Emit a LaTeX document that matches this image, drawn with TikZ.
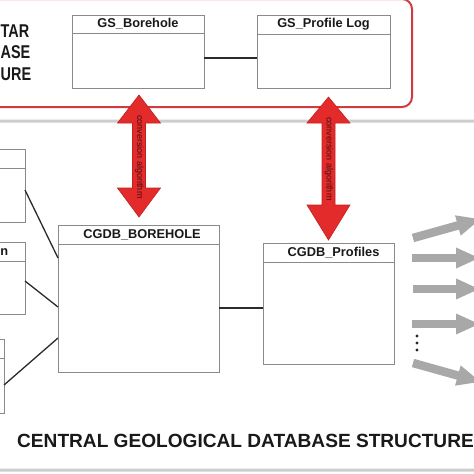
\documentclass[tikz,border=0pt]{standalone}
\usepackage{fontspec}
\setmainfont{Liberation Sans}
\usetikzlibrary{arrows.meta,calc}
\definecolor{tblgray}{HTML}{8A8A8A}
\definecolor{linkc}{HTML}{2B2B2B}
\definecolor{arrowgray}{HTML}{A8A8A8}
\definecolor{arrowred}{HTML}{E42B2B}
\definecolor{arrowreddark}{HTML}{C22020}
\definecolor{boxred}{HTML}{D33A40}
\definecolor{framegray}{HTML}{CDCDCD}
\definecolor{convtext}{HTML}{4A1010}
\tikzset{
  tbox/.style={draw=tblgray, line width=1pt, fill=white, inner sep=0pt, outer sep=0pt, anchor=north west},
  tblline/.style={draw=tblgray, line width=1pt},
  hdr/.style={font=\bfseries\fontsize{12.8}{14}\selectfont, inner sep=0pt, text=black!90},
  link/.style={draw=linkc, line width=1.3pt},
  redarrow/.style={fill=arrowred, draw=arrowreddark, line width=0.6pt},
  convlabel/.style={font=\fontsize{9}{10}\selectfont, text=convtext, rotate=-90, inner sep=0pt},
  grayarrow/.style={draw=arrowgray, line width=8.5pt, -{Triangle[length=24pt,width=19pt]}},
  bigtitle/.style={font=\bfseries\fontsize{19.1}{22}\selectfont, inner sep=0pt, text=black!90},
  sidetitle/.style={font=\bfseries\fontsize{18.5}{22}\selectfont, inner sep=0pt, text=black!90, anchor=base west}
}
\newcommand\dbtable[8]{%
  \node[tbox, minimum width={(#4)-(#2)}, minimum height={(#5)-(#3)}] (#1) at (#2,#3) {};
  \draw[tblline] (#2,#6) -- (#4,#6);
  \node[hdr] at ({((#2)+(#4))/2+(#8)},{((#3)+(#6))/2}) {#7};
}
\begin{document}
\begin{tikzpicture}[x=1pt,y=-1pt]
\useasboundingbox (0,0) rectangle (474,474);
\clip (0,0) rectangle (474,474);
\fill[white] (0,0) rectangle (474,474);
% frames
\draw[framegray, line width=3pt, rounded corners=8pt] (-20,121) rectangle (494,470);
\draw[boxred, line width=2pt, rounded corners=10pt] (-20,-1) rectangle (412,107);
% upper texts
\node[sidetitle] (t1) at (0.5,37) {\scalebox{0.78}[1]{TAR}};
\node[sidetitle] (t2) at (0.5,58.5) {\scalebox{0.78}[1]{ASE}};
\node[sidetitle] (t3) at (0.5,80) {\scalebox{0.78}[1]{URE}};
% upper tables
\dbtable{gsb}{72}{15}{204}{88}{33}{GS\_Borehole}{0}
\dbtable{gsp}{257}{15}{390}{88}{34}{GS\_Profile Log}{0}
\draw[link] ($(gsb.north east)+(0,43)$) -- ($(gsp.north west)+(0,43)$);
% central tables
\dbtable{cbh}{58}{225}{219}{372}{244}{CGDB\_BOREHOLE}{3.5}
\dbtable{cgp}{263}{243}{394}{364}{262}{CGDB\_Profiles}{5}
\dbtable{lb1}{-20}{149}{25}{222}{168}{}{0}
\dbtable{lb2}{-20}{242}{25}{314}{261}{}{0}
\dbtable{lb3}{-20}{339}{4}{413}{358}{}{0}
\node[hdr, anchor=east] (lb2t) at (8.5,252) {n};
\draw[link] ($(lb1.north east)+(0,41)$) -- ($(cbh.north west)+(0,33)$);
\draw[link] ($(lb2.north east)+(0,39)$) -- ($(cbh.north west)+(0,82)$);
\draw[link] ($(lb3.north east)+(0,46)$) -- ($(cbh.north west)+(0,113)$);
\draw[link] ($(cbh.north east)+(0,83)$) -- ($(cgp.north west)+(0,65)$);
% red conversion arrows
\draw[redarrow] (139,95) -- (160.5,123) -- (145.5,123) -- (145.5,188) -- (160.5,188) -- (139,217)
  -- (117.5,188) -- (132.5,188) -- (132.5,123) -- (117.5,123) -- cycle;
\node[convlabel] (c1) at (139.5,157) {conversion algorithm};
\draw[redarrow] (328.5,97) -- (350,123) -- (335,123) -- (335,205) -- (350,205) -- (328.5,240)
  -- (307,205) -- (322,205) -- (322,123) -- (307,123) -- cycle;
\node[convlabel] (c2) at (329,159) {conversion algorithm};
% gray output arrows
\coordinate (g1s) at (413,238); \coordinate (g1e) at (481,219);
\coordinate (g2s) at (412,258); \coordinate (g2e) at (480,258);
\coordinate (g3s) at (413,289); \coordinate (g3e) at (480,289);
\coordinate (g4s) at (412,324); \coordinate (g4e) at (480,324);
\coordinate (g5s) at (413,363); \coordinate (g5e) at (481,382);
\draw[grayarrow] (g1s) -- (g1e);
\draw[grayarrow] (g2s) -- (g2e);
\draw[grayarrow] (g3s) -- (g3e);
\draw[grayarrow] (g4s) -- (g4e);
\draw[grayarrow] (g5s) -- (g5e);
\fill[black!85] (417,336) circle (1.6pt) (417,343) circle (1.6pt) (417,350) circle (1.6pt);
% bottom title
\node[bigtitle, anchor=base west] (title) at (17,447) {CENTRAL GEOLOGICAL DATABASE STRUCTURE};
\end{tikzpicture}
\end{document}
